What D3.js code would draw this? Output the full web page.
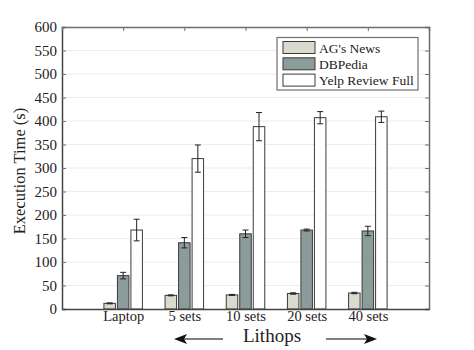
<!DOCTYPE html>
<html>
<head>
<meta charset="utf-8">
<script src="https://cdn.jsdelivr.net/npm/d3@7"></script>
<style>
  html, body { margin: 0; padding: 0; background: #fff; }
  svg { display: block; font-family: "Liberation Serif", "Times New Roman", serif; }
</style>
</head>
<body>
<svg id="chart" width="474" height="350"></svg>
<script>
// Execution time per dataset for each deployment
const categories = ["Laptop", "5 sets", "10 sets", "20 sets", "40 sets"];
const seriesNames = ["AG's News", "DBPedia", "Yelp Review Full"];
const agNews    = [12, 29, 30, 33, 34];
const agErr     = [1, 1, 1, 1.5, 1.5];
const dbpedia   = [71, 141, 160, 168, 166];
const dbpErr    = [7, 11, 8, 2, 10];
const yelp      = [168, 320, 388, 407, 409];
const yelpErr   = [23, 29, 30, 13, 12];
const yTicks    = [0, 50, 100, 150, 200, 250, 300, 350, 400, 450, 500, 550, 600];
const colors    = ["#d9dbcf", "#8b9c9a", "#ffffff"];

const series = [
  { name: seriesNames[0], values: agNews, errs: agErr },
  { name: seriesNames[1], values: dbpedia, errs: dbpErr },
  { name: seriesNames[2], values: yelp, errs: yelpErr }
];

const svg = d3.select("#chart");
const m = { left: 62, right: 45, top: 27, bottom: 41 };
const W = 474, H = 350;
const iw = W - m.left - m.right, ih = H - m.top - m.bottom;
const g = svg.append("g").attr("transform", `translate(${m.left},${m.top})`);

// Categories sit at positions 1..5 on a 0..6 axis
const x = d3.scaleLinear().domain([0, 6]).range([0, iw]);
const y = d3.scaleLinear().domain([0, 600]).range([ih, 0]);
const barW = 11.5, barStep = 13.5;

// grid
g.append("g").selectAll("line").data(yTicks.slice(1, -1)).join("line")
  .attr("x1", 0).attr("x2", iw)
  .attr("y1", d => y(d)).attr("y2", d => y(d))
  .attr("stroke", "#ececec").attr("stroke-width", 1);

// bars and error bars
series.forEach((s, si) => {
  const off = (si - 1) * barStep;
  const grp = g.append("g");
  grp.selectAll("rect").data(s.values).join("rect")
    .attr("x", (d, i) => x(i + 1) + off - barW / 2)
    .attr("y", d => y(d))
    .attr("width", barW)
    .attr("height", d => ih - y(d))
    .attr("fill", colors[si])
    .attr("stroke", "#3a3a3a")
    .attr("stroke-width", 1);
  const eb = grp.selectAll("g.err").data(s.values).join("g").attr("class", "err");
  eb.append("line")
    .attr("x1", (d, i) => x(i + 1) + off).attr("x2", (d, i) => x(i + 1) + off)
    .attr("y1", (d, i) => y(d + s.errs[i])).attr("y2", (d, i) => y(d - s.errs[i]))
    .attr("stroke", "#222").attr("stroke-width", 1);
  [1, -1].forEach(sign => {
    eb.append("line")
      .attr("x1", (d, i) => x(i + 1) + off - 3).attr("x2", (d, i) => x(i + 1) + off + 3)
      .attr("y1", (d, i) => y(d + sign * s.errs[i])).attr("y2", (d, i) => y(d + sign * s.errs[i]))
      .attr("stroke", "#222").attr("stroke-width", 1);
  });
});

// axes
const axisColor = "#6e6e6e";
const axLeft = g.append("g").call(d3.axisLeft(y).tickValues(yTicks).tickSize(-4).tickPadding(5));
const axRight = g.append("g").attr("transform", `translate(${iw},0)`)
  .call(d3.axisRight(y).tickValues(yTicks).tickSize(-4).tickFormat(""));
const axTop = g.append("g").call(d3.axisTop(x).tickValues([1, 2, 3, 4, 5]).tickSize(-4).tickFormat(""));
const axBottom = g.append("g").attr("transform", `translate(0,${ih})`)
  .call(d3.axisBottom(x).tickValues([1, 2, 3, 4, 5]).tickSize(0).tickPadding(2)
    .tickFormat((d) => categories[d - 1]));
[axLeft, axRight, axTop, axBottom].forEach(a => {
  a.select(".domain").attr("stroke", axisColor).attr("stroke-width", 1.5);
  a.selectAll(".tick line").attr("stroke", axisColor);
  a.selectAll("text").attr("fill", "#222").style("font-size", "15px")
    .style("font-family", "'Liberation Serif', serif");
});
axBottom.selectAll("text").style("font-size", "14.5px");
axBottom.select(".domain").attr("stroke", "#444");
axLeft.select(".domain").attr("stroke", "#444");

// y label
svg.append("text")
  .attr("transform", `translate(21.5,${m.top + ih / 2 + 3}) rotate(-90)`)
  .attr("text-anchor", "middle")
  .attr("dominant-baseline", "middle")
  .style("font-size", "16.5px")
  .attr("fill", "#222")
  .text("Execution Time (s)");

// Lithops caption with arrows
svg.append("text")
  .attr("x", 272).attr("y", 342)
  .attr("text-anchor", "middle")
  .style("font-size", "19px")
  .attr("fill", "#222")
  .text("Lithops");
const arrowColor = "#555";
function arrow(x1, x2, yy) {
  const dir = Math.sign(x2 - x1);
  svg.append("line").attr("x1", x1).attr("x2", x2 - dir * 8).attr("y1", yy).attr("y2", yy)
    .attr("stroke", arrowColor).attr("stroke-width", 1.5);
  svg.append("path")
    .attr("d", `M${x2},${yy} L${x2 - dir * 13},${yy - 5} L${x2 - dir * 10},${yy} L${x2 - dir * 13},${yy + 5} Z`)
    .attr("fill", "#111");
}
arrow(223, 174, 339);
arrow(326, 377, 339);

// legend
const lg = svg.append("g");
lg.append("rect").attr("x", 277).attr("y", 37.5).attr("width", 141).attr("height", 52.5)
  .attr("fill", "#fff").attr("stroke", axisColor).attr("stroke-width", 1.2);
seriesNames.forEach((n, i) => {
  const yy = 41.5 + i * 16.3;
  lg.append("rect").attr("x", 283).attr("y", yy).attr("width", 32).attr("height", 12)
    .attr("fill", colors[i]).attr("stroke", "#3a3a3a").attr("stroke-width", 1);
  lg.append("text").attr("x", 319).attr("y", yy + 11)
    .style("font-size", "13.5px").attr("fill", "#222").text(n);
});
</script>
</body>
</html>
